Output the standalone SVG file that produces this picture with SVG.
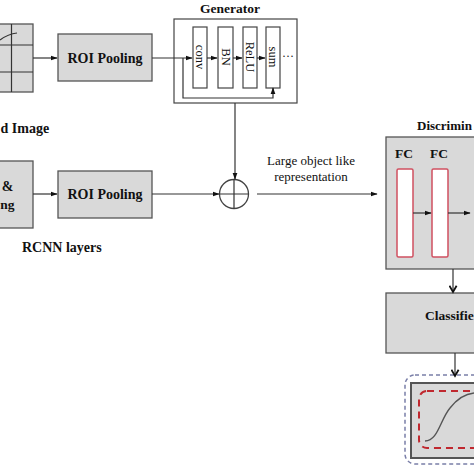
<svg xmlns="http://www.w3.org/2000/svg" width="474" height="474" viewBox="0 0 474 474">
<style>
.box{fill:#d9d9d9;stroke:#555;stroke-width:1.3}
.wbox{fill:#fff;stroke:#444;stroke-width:1.2}
.ln{fill:none;stroke:#333;stroke-width:1.2}
.b{font-family:"Liberation Serif",serif;font-weight:bold;fill:#111}
.r{font-family:"Liberation Serif",serif;fill:#111}
.red{fill:#fff;stroke:#d05060;stroke-width:1.5}
</style>
<defs>
<marker id="ah" viewBox="0 0 10 10" refX="9" refY="5" markerWidth="7" markerHeight="7" orient="auto" markerUnits="userSpaceOnUse"><path d="M0,1.5 L10,5 L0,8.5 z" fill="#111"/></marker>
<marker id="ch" viewBox="0 0 10 10" refX="8" refY="5" markerWidth="9" markerHeight="9" orient="auto" markerUnits="userSpaceOnUse"><path d="M1,1 L8,5 L1,9" fill="none" stroke="#111" stroke-width="2"/></marker>
</defs>
<rect width="474" height="474" fill="#fff"/>

<g id="input-image">
<rect class="box" x="-2" y="24" width="35" height="68"/>
<path class="ln" d="M11.5,24 V92 M-2,45 H33 M-2,72 H33"/>
<path class="ln" d="M0,40 Q8,34 17,33"/>
<text class="b" x="0.5" y="133" font-size="14">d Image</text>
</g>

<g id="roi1">
<rect class="box" x="58" y="34" width="94" height="47"/>
<text class="b" x="105" y="63" font-size="14" text-anchor="middle">ROI Pooling</text>
</g>

<g id="conv-pool">
<rect class="box" x="-2" y="161" width="35" height="67"/>
<text class="b" x="13.5" y="191" font-size="14" text-anchor="end">&amp;</text>
<text class="b" x="14.5" y="209" font-size="13.5" text-anchor="end">ng</text>
</g>

<g id="roi2">
<rect class="box" x="58" y="171" width="94" height="47"/>
<text class="b" x="105" y="199" font-size="14" text-anchor="middle">ROI Pooling</text>
</g>

<text class="b" x="22" y="252" font-size="14">RCNN layers</text>

<g id="generator">
<text class="b" x="230" y="13" font-size="13.5" text-anchor="middle">Generator</text>
<rect class="wbox" x="174" y="19" width="123" height="84"/>
<rect class="wbox" x="193" y="27" width="14" height="61"/>
<rect class="wbox" x="218" y="27" width="15" height="61"/>
<rect class="wbox" x="243" y="27" width="14" height="61"/>
<rect class="wbox" x="266" y="27" width="14" height="61"/>
<text class="r" font-size="12.5" text-anchor="middle" transform="translate(196,57) rotate(90)">conv</text>
<text class="r" font-size="12.5" text-anchor="middle" transform="translate(221.5,57) rotate(90)">BN</text>
<text class="r" font-size="12.5" text-anchor="middle" transform="translate(246,57) rotate(90)">ReLU</text>
<text class="r" font-size="12.5" text-anchor="middle" transform="translate(269,57) rotate(90)">sum</text>
<text class="r" x="282" y="60" font-size="12">···</text>
</g>

<g id="sum-node">
<circle cx="234" cy="194" r="14.5" fill="#fff" stroke="#444" stroke-width="1.3"/>
<path class="ln" d="M219.5,194 H248.5 M234,179.5 V208.5"/>
</g>

<text class="r" x="311" y="165" font-size="13" text-anchor="middle">Large object like</text>
<text class="r" x="311" y="181" font-size="13" text-anchor="middle">representation</text>

<g id="discriminator">
<text class="b" x="417" y="130" font-size="13">Discrimin</text>
<rect class="box" x="386" y="137" width="95" height="132"/>
<text class="b" x="404" y="158" font-size="13.5" text-anchor="middle">FC</text>
<text class="b" x="439" y="158" font-size="13.5" text-anchor="middle">FC</text>
<rect class="red" x="397" y="169" width="16" height="88" rx="1.5"/>
<rect class="red" x="432" y="169" width="16" height="88" rx="1.5"/>
</g>

<g id="classifier">
<rect class="box" x="386" y="293" width="95" height="60"/>
<text class="b" x="425" y="320" font-size="13.5">Classifie</text>
</g>

<g id="output">
<rect x="405" y="375" width="80" height="89" rx="10" fill="none" stroke="#7a7fa8" stroke-width="1.5" stroke-dasharray="4,3"/>
<rect x="411" y="383" width="70" height="75" fill="#d9d9d9" stroke="#555" stroke-width="2"/>
<rect x="419" y="391" width="62" height="57" rx="8" fill="none" stroke="#c0282f" stroke-width="2" stroke-dasharray="7,5"/>
<path d="M425,441 C438,441 440,420 450,408 C457,399 464,394 474,393" fill="none" stroke="#555" stroke-width="1.4"/>
</g>

<g id="connectors">
<path class="ln" d="M33,58 H57" marker-end="url(#ah)"/>
<path class="ln" d="M152,58 H192" marker-end="url(#ah)"/>
<path class="ln" d="M207,58 H217" marker-end="url(#ah)"/>
<path class="ln" d="M233,58 H242" marker-end="url(#ah)"/>
<path class="ln" d="M257,58 H265" marker-end="url(#ah)"/>
<path class="ln" d="M183,58 V98 H273 V88" marker-end="url(#ah)"/>
<path class="ln" d="M235,103 V179" marker-end="url(#ah)"/>
<path class="ln" d="M33,194 H57" marker-end="url(#ah)"/>
<path class="ln" d="M152,194 H219" marker-end="url(#ah)"/>
<path class="ln" d="M257,194 H377" marker-end="url(#ah)"/>
<path class="ln" d="M413,213 H431" marker-end="url(#ah)"/>
<path class="ln" d="M448,213 H470" marker-end="url(#ah)"/>
<path class="ln" d="M453,269 V292" marker-end="url(#ch)"/>
<path class="ln" d="M455,353 V376" marker-end="url(#ch)"/>
</g>
</svg>
